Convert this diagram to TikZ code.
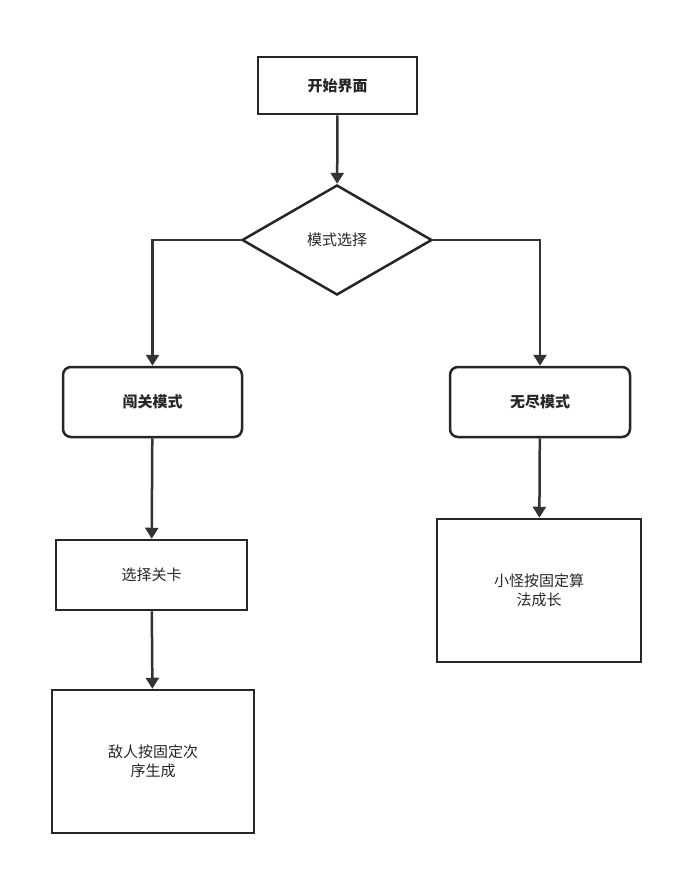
\documentclass[tikz,border=0pt]{standalone}
\usepackage{fontspec}
\setmainfont{Noto Sans CJK SC}
\usetikzlibrary{shapes.geometric,arrows.meta}
\begin{document}
\begin{tikzpicture}[x=1pt,y=-1pt,
  box/.style={draw=black!85,line width=2.5pt,minimum width=#1,text=black!85,font=\fontsize{15}{19}\selectfont,align=center,inner sep=0pt},
  arr/.style={draw=black!80,line width=2.5pt,-{Triangle[length=11pt,width=13pt]}}]
\useasboundingbox (0,0) rectangle (692,884);
\node[box=159pt,minimum height=57pt,font=\fontsize{15}{19}\selectfont\bfseries] (start) at (337.5,85.5) {开始界面};
\node[box=190pt,diamond,aspect=1.73,minimum width=190pt,minimum height=110pt] (mode) at (337,240) {};
\node[text=black!85,font=\fontsize{15}{19}\selectfont] at (337,240) {模式选择};
\node[box=179pt,minimum height=70pt,rounded corners=8pt,font=\fontsize{15}{19}\selectfont\bfseries] (level) at (152.5,402) {闯关模式};
\node[box=180pt,minimum height=70pt,rounded corners=8pt,font=\fontsize{15}{19}\selectfont\bfseries] (endless) at (540,402) {无尽模式};
\node[box=191pt,minimum height=70pt] (sel) at (151.5,575) {选择关卡};
\node[box=204pt,minimum height=143pt] (grow) at (539,590.5) {小怪按固定算\\法成长};
\node[box=202pt,minimum height=143pt] (gen) at (153,761.5) {敌人按固定次\\序生成};
\draw[arr] (start) -- (mode);
\draw[arr] (mode.west) -| (level.north);
\draw[arr] (mode.east) -| (endless.north);
\draw[arr] (level) -- (sel);
\draw[arr] (sel) -- (gen);
\draw[arr] (endless) -- (grow);
\end{tikzpicture}
\end{document}
